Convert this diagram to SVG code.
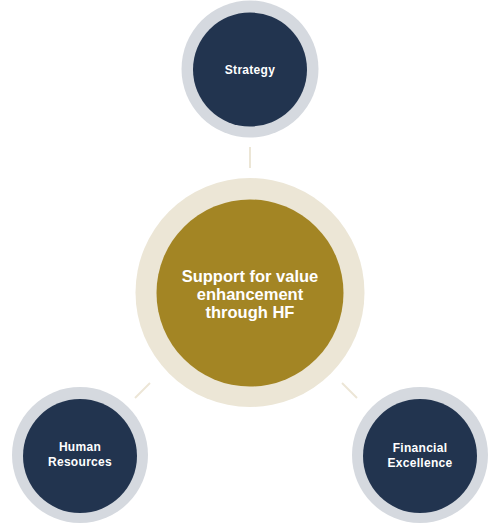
<svg xmlns="http://www.w3.org/2000/svg" width="500" height="524" viewBox="0 0 500 524">
<style>
.ring{fill:#d5d9df}
.core{fill:#22344f}
.lbl{font-family:"Liberation Sans",Arial,sans-serif;font-weight:bold;font-size:12px;letter-spacing:0.3px;fill:#ffffff;text-anchor:middle}
.big{font-family:"Liberation Sans",Arial,sans-serif;font-weight:bold;font-size:16.5px;fill:#ffffff;text-anchor:middle}
.conn{stroke:#ece6d6;stroke-width:2;fill:none}
</style>
<rect width="500" height="524" fill="#ffffff"/>
<g id="connectors">
<line class="conn" x1="250" y1="147" x2="250" y2="168"/>
<line class="conn" x1="135" y1="398" x2="150" y2="383"/>
<line class="conn" x1="342" y1="383" x2="357" y2="398"/>
</g>
<g id="center">
<circle cx="250" cy="292.5" r="114.5" fill="#ece6d6"/>
<circle cx="250" cy="293" r="93.5" fill="#a38524"/>
<text class="big" x="250" y="282">Support for value</text>
<text class="big" x="250" y="300">enhancement</text>
<text class="big" x="250" y="318">through HF</text>
</g>
<g id="strategy">
<circle class="ring" cx="250" cy="69" r="68.5"/>
<circle class="core" cx="250" cy="69.5" r="57"/>
<text class="lbl" x="250" y="74">Strategy</text>
</g>
<g id="human-resources">
<circle class="ring" cx="80" cy="455" r="68"/>
<circle class="core" cx="80" cy="456" r="57"/>
<text class="lbl" x="80" y="451">Human</text>
<text class="lbl" x="80" y="466">Resources</text>
</g>
<g id="financial-excellence">
<circle class="ring" cx="420" cy="455" r="68"/>
<circle class="core" cx="420" cy="456" r="57"/>
<text class="lbl" x="420" y="452">Financial</text>
<text class="lbl" x="420" y="467">Excellence</text>
</g>
</svg>
